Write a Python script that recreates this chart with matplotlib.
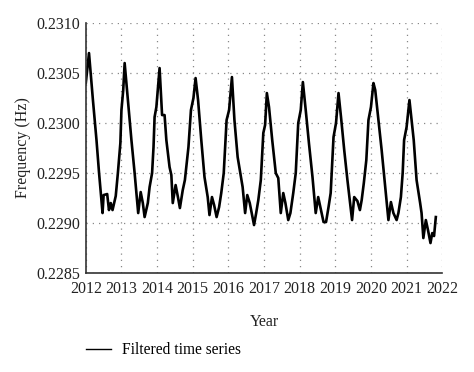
import matplotlib
matplotlib.use("Agg")
import matplotlib.pyplot as plt

# pixel-read points (year, Hz)
years = [2012.0, 2012.09, 2012.2, 2012.3, 2012.37, 2012.47, 2012.5, 2012.6, 2012.65, 2012.7, 2012.75,
         2012.84, 2012.9, 2012.97, 2013.0, 2013.05, 2013.09,
         2013.18, 2013.28, 2013.37, 2013.47, 2013.54, 2013.6, 2013.65, 2013.74, 2013.79, 2013.86,
         2013.9, 2013.93, 2013.98, 2014.07,
         2014.14, 2014.21, 2014.26, 2014.35, 2014.4, 2014.44, 2014.52, 2014.59, 2014.64, 2014.72,
         2014.78, 2014.88, 2014.95, 2015.02, 2015.08,
         2015.15, 2015.24, 2015.33, 2015.42, 2015.47, 2015.54, 2015.6, 2015.67, 2015.74, 2015.8,
         2015.87, 2015.95, 2016.02, 2016.1,
         2016.17, 2016.26, 2016.4, 2016.47, 2016.53, 2016.6, 2016.68, 2016.72, 2016.78, 2016.84,
         2016.91, 2016.98, 2017.03, 2017.08, 2017.14,
         2017.23, 2017.33, 2017.4, 2017.47, 2017.54, 2017.6, 2017.68, 2017.74, 2017.82, 2017.89,
         2017.96, 2018.03, 2018.09,
         2018.17, 2018.26, 2018.36, 2018.45, 2018.52, 2018.58, 2018.67, 2018.74, 2018.81, 2018.87,
         2018.95, 2019.02, 2019.09,
         2019.16, 2019.25, 2019.34, 2019.47, 2019.53, 2019.62, 2019.69, 2019.74, 2019.8, 2019.87,
         2019.93, 2020.0, 2020.07, 2020.12,
         2020.21, 2020.3, 2020.4, 2020.49, 2020.56, 2020.63, 2020.72, 2020.77, 2020.84, 2020.89,
         2020.93, 2021.0, 2021.08,
         2021.2, 2021.28, 2021.38, 2021.42, 2021.47, 2021.54, 2021.6, 2021.67, 2021.72, 2021.77,
         2021.82]
freq = [0.23040, 0.23070, 0.23023, 0.22983, 0.22951, 0.22910, 0.22928, 0.22929, 0.22913, 0.22920, 0.22913,
        0.22927, 0.22950, 0.22980, 0.23013, 0.23033, 0.23060,
        0.23023, 0.22983, 0.22950, 0.22910, 0.22931, 0.22920, 0.22906, 0.22920, 0.22936, 0.22950,
        0.22976, 0.23006, 0.23016, 0.23055,
        0.23008, 0.23008, 0.22983, 0.22956, 0.22948, 0.22920, 0.22938, 0.22925, 0.22915, 0.22933,
        0.22943, 0.22976, 0.23013, 0.23025, 0.23045,
        0.23023, 0.22983, 0.22946, 0.22926, 0.22908, 0.22926, 0.22918, 0.22906, 0.22916, 0.22930,
        0.22950, 0.23003, 0.23013, 0.23046,
        0.23003, 0.22966, 0.22936, 0.22910, 0.22928, 0.22920, 0.22905, 0.22898, 0.22910, 0.22923,
        0.22943, 0.22990, 0.22998, 0.23030, 0.23016,
        0.22983, 0.22950, 0.22945, 0.22910, 0.22930, 0.22920, 0.22903, 0.22910, 0.22930, 0.22950,
        0.23000, 0.23013, 0.23041,
        0.23013, 0.22980, 0.22946, 0.22910, 0.22926, 0.22916, 0.22901, 0.22901, 0.22916, 0.22930,
        0.22986, 0.23000, 0.23030,
        0.23006, 0.22973, 0.22943, 0.22903, 0.22926, 0.22922, 0.22913, 0.22923, 0.22940, 0.22963,
        0.23003, 0.23016, 0.23040, 0.23033,
        0.23003, 0.22973, 0.22936, 0.22903, 0.22921, 0.22910, 0.22903, 0.22910, 0.22926, 0.22950,
        0.22983, 0.22996, 0.23023,
        0.22983, 0.22943, 0.22920, 0.22910, 0.22885, 0.22903, 0.22893, 0.22880, 0.22890, 0.22887,
        0.22906]

xticks = list(range(2012, 2023))
yticks = [0.2285, 0.2290, 0.2295, 0.2300, 0.2305, 0.2310]

plt.rcParams['font.family'] = ['Liberation Serif', 'DejaVu Serif']
fig = plt.figure(figsize=(4.74, 3.72), dpi=100)
ax = fig.add_axes([0.181, 0.266, 0.752, 0.672])

ax.plot(years, freq, color='black', linewidth=1.9, label='Filtered time series')

ax.set_xlim(2012, 2022)
ax.set_ylim(0.2285, 0.2310)
ax.set_xticks(xticks)
ax.set_yticks(yticks)
ax.set_yticklabels(["%.4f" % v for v in yticks])
ax.tick_params(length=0, labelsize=11.5, colors='#222222')
ax.tick_params(axis='x', pad=6)
ax.tick_params(axis='y', pad=4)
ax.grid(True, linestyle=(0, (1, 4)), color='#888888', linewidth=0.9)
for s in ['top', 'right']:
    ax.spines[s].set_visible(False)
for s in ['left', 'bottom']:
    ax.spines[s].set_color('#333333')
    ax.spines[s].set_linewidth(1.2)

ax.set_xlabel("Year", fontsize=11.5, labelpad=12, color='#222222')
ax.set_ylabel("Frequency (Hz)", fontsize=11.5, labelpad=4, color='#222222')

leg = fig.legend(loc='center left', bbox_to_anchor=(0.181, 0.059), frameon=False,
                 fontsize=11.2, handlelength=1.6, handletextpad=0.7,
                 borderpad=0, borderaxespad=0)
leg.get_lines()[0].set_linewidth(1.0)

fig.savefig("out.png", dpi=100)
